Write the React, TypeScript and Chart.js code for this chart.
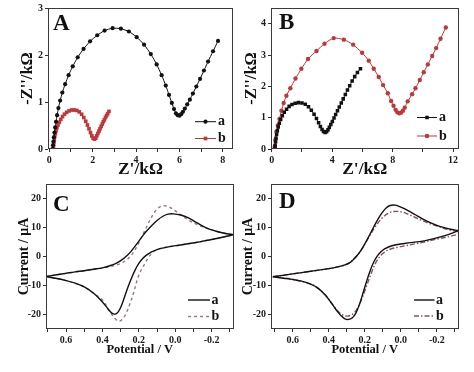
import React, { useEffect, useRef } from "react";
import { Chart, registerables } from "chart.js";

Chart.register(...registerables);

const SERIF = '"Liberation Serif", "Times New Roman", Times, serif';
const BLACK = "#111111";
const RED = "#c0373a";
const DASH_C = "#9a7683";
const DASH_D = "#8a4f5c";

// ---------------- Panel A : Nyquist (kOhm) ----------------
const A_a_re = [0.15, 0.17, 0.19, 0.21, 0.24, 0.27, 0.31, 0.36, 0.42, 0.5, 0.6, 0.73, 0.89, 1.08, 1.31, 1.58, 1.88, 2.21, 2.55, 2.92, 3.3, 3.67, 4.03, 4.37, 4.68, 4.95, 5.18, 5.37, 5.52, 5.65, 5.75, 5.84, 5.92, 6.0, 6.08, 6.16, 6.25, 6.36, 6.48, 6.62, 6.78, 6.95, 7.13, 7.32, 7.55, 7.78];
const A_a_im = [0.0, 0.08, 0.16, 0.25, 0.35, 0.46, 0.58, 0.72, 0.87, 1.03, 1.2, 1.38, 1.57, 1.76, 1.95, 2.13, 2.29, 2.42, 2.52, 2.57, 2.56, 2.5, 2.38, 2.22, 2.02, 1.8, 1.57, 1.35, 1.15, 0.98, 0.85, 0.76, 0.72, 0.71, 0.74, 0.79, 0.86, 0.95, 1.05, 1.18, 1.33, 1.49, 1.67, 1.86, 2.08, 2.3];
const A_b_re = [0.18, 0.19, 0.2, 0.21, 0.23, 0.25, 0.28, 0.31, 0.35, 0.4, 0.46, 0.53, 0.61, 0.7, 0.8, 0.91, 1.03, 1.15, 1.27, 1.38, 1.49, 1.59, 1.68, 1.76, 1.83, 1.9, 1.96, 2.02, 2.08, 2.14, 2.19, 2.24, 2.29, 2.34, 2.39, 2.44, 2.49, 2.54, 2.59, 2.64, 2.69, 2.75];
const A_b_im = [0.0, 0.05, 0.1, 0.15, 0.21, 0.27, 0.33, 0.39, 0.45, 0.51, 0.57, 0.63, 0.69, 0.74, 0.78, 0.81, 0.83, 0.83, 0.82, 0.79, 0.74, 0.67, 0.59, 0.51, 0.43, 0.35, 0.28, 0.23, 0.21, 0.23, 0.28, 0.33, 0.38, 0.43, 0.48, 0.53, 0.58, 0.62, 0.67, 0.71, 0.75, 0.8];
const A_xTicks = [0, 2, 4, 6, 8];
const A_xMinor = [1, 3, 5, 7];
const A_yTicks = [0, 1, 2, 3];

// ---------------- Panel B : Nyquist (kOhm) ----------------
const B_a_re = [0.2, 0.22, 0.25, 0.28, 0.32, 0.37, 0.43, 0.5, 0.59, 0.7, 0.83, 0.98, 1.15, 1.34, 1.55, 1.77, 2.0, 2.22, 2.43, 2.62, 2.8, 2.96, 3.1, 3.22, 3.33, 3.43, 3.53, 3.63, 3.72, 3.81, 3.91, 4.01, 4.12, 4.23, 4.35, 4.47, 4.6, 4.73, 4.87, 5.01, 5.16, 5.32, 5.49, 5.67, 5.87];
const B_a_im = [0.0, 0.1, 0.22, 0.34, 0.46, 0.58, 0.7, 0.82, 0.94, 1.06, 1.17, 1.27, 1.36, 1.42, 1.46, 1.48, 1.47, 1.43, 1.35, 1.24, 1.11, 0.97, 0.84, 0.72, 0.62, 0.56, 0.53, 0.55, 0.61, 0.69, 0.78, 0.88, 0.99, 1.1, 1.22, 1.34, 1.47, 1.6, 1.74, 1.88, 2.02, 2.17, 2.31, 2.44, 2.56];
const B_b_re = [0.18, 0.2, 0.24, 0.31, 0.4, 0.51, 0.64, 0.79, 0.97, 1.23, 1.57, 1.96, 2.4, 2.96, 3.49, 4.1, 4.77, 5.39, 5.98, 6.42, 6.75, 7.08, 7.37, 7.68, 7.9, 8.06, 8.2, 8.32, 8.44, 8.56, 8.68, 8.8, 9.0, 9.29, 9.51, 9.8, 10.06, 10.33, 10.62, 10.88, 11.17, 11.52];
const B_b_im = [0.0, 0.08, 0.29, 0.55, 0.75, 0.96, 1.22, 1.47, 1.7, 1.94, 2.25, 2.56, 2.87, 3.13, 3.36, 3.54, 3.49, 3.33, 3.07, 2.82, 2.56, 2.3, 2.04, 1.78, 1.53, 1.38, 1.25, 1.17, 1.14, 1.16, 1.22, 1.32, 1.52, 1.75, 1.94, 2.2, 2.45, 2.7, 2.97, 3.22, 3.52, 3.88];
const B_xTicks = [0, 4, 8, 12];
const B_xMinor = [2, 6, 10];
const B_yTicks = [0, 1, 2, 3, 4];

// ---------------- Panel C : CV (V vs uA) ----------------
const C_a_upE = [0.71, 0.65, 0.6, 0.55, 0.5, 0.45, 0.4, 0.36, 0.32, 0.29, 0.26, 0.24, 0.22, 0.2, 0.18, 0.16, 0.13, 0.1, 0.07, 0.04, 0.01, -0.03, -0.07, -0.12, -0.17, -0.22, -0.27, -0.32];
const C_a_upI = [-6.9, -6.3, -5.8, -5.3, -4.9, -4.4, -3.9, -3.2, -2.2, -1.0, 0.6, 2.0, 3.6, 5.3, 7.0, 8.6, 10.6, 12.4, 13.8, 14.6, 14.7, 14.3, 13.4, 11.6, 9.9, 8.8, 8.0, 7.5];
const C_a_loE = [-0.32, -0.27, -0.22, -0.17, -0.12, -0.07, -0.02, 0.03, 0.07, 0.1, 0.13, 0.16, 0.18, 0.2, 0.22, 0.24, 0.26, 0.28, 0.3, 0.32, 0.34, 0.36, 0.38, 0.41, 0.45, 0.5, 0.55, 0.6, 0.65, 0.71];
const C_a_loI = [7.5, 6.8, 6.1, 5.5, 4.9, 4.4, 3.9, 3.4, 2.9, 2.4, 1.6, 0.4, -0.8, -2.4, -4.6, -7.4, -10.6, -14.2, -17.6, -19.6, -19.8, -18.8, -17.2, -15.0, -12.6, -10.5, -9.2, -8.3, -7.6, -6.9];
const C_b_upE = [0.71, 0.6, 0.5, 0.4, 0.34, 0.3, 0.27, 0.25, 0.23, 0.21, 0.19, 0.17, 0.15, 0.13, 0.11, 0.09, 0.07, 0.05, 0.02, -0.01, -0.04, -0.08, -0.12, -0.17, -0.22, -0.27, -0.32];
const C_b_upI = [-6.9, -5.8, -4.9, -4.0, -3.2, -2.4, -1.3, -0.2, 1.4, 3.5, 6.0, 8.6, 11.2, 13.6, 15.6, 16.9, 17.5, 17.4, 16.6, 15.3, 13.9, 12.3, 11.0, 9.8, 8.8, 8.0, 7.5];
const C_b_loE = [-0.32, -0.22, -0.12, -0.02, 0.04, 0.08, 0.11, 0.13, 0.15, 0.17, 0.19, 0.21, 0.23, 0.25, 0.27, 0.29, 0.31, 0.33, 0.35, 0.37, 0.4, 0.45, 0.5, 0.6, 0.71];
const C_b_loI = [7.5, 6.1, 4.9, 3.9, 3.3, 2.8, 2.0, 1.0, -0.6, -2.8, -5.0, -8.3, -12.8, -16.5, -19.6, -21.6, -22.3, -21.5, -19.8, -17.8, -15.0, -12.6, -10.5, -8.3, -6.9];

// ---------------- Panel D : CV (V vs uA) ----------------
const D_a_upE = [0.71, 0.6, 0.5, 0.4, 0.35, 0.31, 0.28, 0.26, 0.24, 0.22, 0.2, 0.18, 0.16, 0.14, 0.12, 0.1, 0.08, 0.06, 0.03, 0.0, -0.04, -0.08, -0.12, -0.17, -0.22, -0.27, -0.32];
const D_a_upI = [-7.0, -6.0, -5.1, -4.2, -3.6, -2.9, -2.0, -0.9, 0.5, 2.2, 4.3, 6.6, 9.0, 11.4, 13.6, 15.4, 16.8, 17.6, 17.7, 17.0, 15.8, 14.4, 13.0, 11.5, 10.3, 9.5, 8.9];
const D_a_loE = [-0.32, -0.24, -0.13, -0.02, 0.05, 0.09, 0.11, 0.13, 0.15, 0.17, 0.19, 0.21, 0.23, 0.25, 0.27, 0.29, 0.31, 0.33, 0.35, 0.37, 0.39, 0.42, 0.46, 0.5, 0.55, 0.6, 0.65, 0.71];
const D_a_loI = [8.9, 7.1, 5.4, 4.5, 3.7, 2.6, 1.6, 0.2, -1.9, -4.9, -8.6, -12.7, -16.6, -19.6, -21.2, -21.7, -21.5, -20.5, -19.1, -17.4, -15.6, -13.2, -10.9, -9.5, -8.5, -7.9, -7.5, -7.0];
const D_b_upE = [0.71, 0.6, 0.5, 0.4, 0.35, 0.31, 0.28, 0.26, 0.24, 0.22, 0.2, 0.18, 0.16, 0.14, 0.12, 0.1, 0.08, 0.06, 0.04, 0.01, -0.02, -0.06, -0.1, -0.15, -0.2, -0.26, -0.32];
const D_b_upI = [-7.0, -6.0, -5.1, -4.2, -3.6, -2.9, -1.9, -0.7, 0.5, 2.2, 4.3, 6.4, 8.5, 10.4, 12.1, 13.5, 14.5, 15.2, 15.5, 15.5, 15.1, 14.0, 12.9, 11.6, 10.5, 9.3, 8.4];
const D_b_loE = [-0.32, -0.2, -0.09, 0.0, 0.06, 0.09, 0.11, 0.13, 0.15, 0.17, 0.19, 0.21, 0.23, 0.25, 0.27, 0.29, 0.31, 0.33, 0.35, 0.37, 0.39, 0.42, 0.46, 0.5, 0.6, 0.71];
const D_b_loI = [7.7, 6.0, 4.5, 3.4, 2.5, 1.5, 0.4, -1.2, -3.6, -6.8, -10.2, -13.6, -16.6, -18.8, -20.0, -20.5, -20.5, -19.9, -18.8, -17.2, -15.6, -13.2, -10.9, -9.5, -7.9, -7.0];

const CV_xTicks = [0.6, 0.4, 0.2, 0.0, -0.2];
const CV_xMinor = [0.7, 0.5, 0.3, 0.1, -0.1, -0.3];
const CV_yTicks = [-20, -10, 0, 10, 20];

const pts = (xs: number[], ys: number[]) => xs.map((x, i) => ({ x, y: ys[i] }));
const loop = (e1: number[], i1: number[], e2: number[], i2: number[]) => pts([...e1, ...e2], [...i1, ...i2]);

type Area = { l: number; t: number; r: number; b: number };
type AxisDef = {
  min: number; max: number; reverse?: boolean; major: number[]; minor: number[];
  fmt: (v: number) => string; title: string; size: number; pad: number;
};
type PanelDef = {
  left: number; top: number; width: number; height: number; area: Area;
  x: AxisDef; y: AxisDef; datasets: any[];
  letter: { text: string; x: number; y: number };
  legend: { x1: number; x2: number; tx: number; rows: number[] };
};

const decor = {
  id: "decor",
  afterDraw(chart: any, _args: any, o: any) {
    const ctx = chart.ctx as CanvasRenderingContext2D;
    const ca = chart.chartArea;
    ctx.save();
    ctx.strokeStyle = "#3a3a3a";
    ctx.lineWidth = 1;
    ctx.setLineDash([]);
    ctx.strokeRect(Math.round(ca.left) + 0.5, Math.round(ca.top) + 0.5, Math.round(ca.right - ca.left) - 1, Math.round(ca.bottom - ca.top) - 1);
    // panel letter
    ctx.fillStyle = BLACK;
    ctx.font = `bold 23px ${SERIF}`;
    ctx.textAlign = "left";
    ctx.textBaseline = "alphabetic";
    ctx.fillText(o.letter.text, o.letter.x - o.ox, o.letter.y - o.oy);
    // legend
    const L = o.legend;
    chart.data.datasets.forEach((ds: any, i: number) => {
      const y = L.rows[i] - o.oy;
      const x1 = L.x1 - o.ox;
      const x2 = L.x2 - o.ox;
      ctx.beginPath();
      ctx.setLineDash(ds.borderDash || []);
      ctx.strokeStyle = ds.borderColor;
      ctx.lineWidth = ds.borderWidth;
      ctx.moveTo(x1, y);
      ctx.lineTo(x2, y);
      ctx.stroke();
      ctx.setLineDash([]);
      if (ds.pointRadius > 0) {
        const cx = (x1 + x2) / 2;
        ctx.fillStyle = ds.backgroundColor;
        ctx.beginPath();
        if (ds.pointStyle === "rect") {
          const s = ds.pointRadius * Math.SQRT1_2;
          ctx.rect(cx - s, y - s, 2 * s, 2 * s);
        } else {
          ctx.arc(cx, y, ds.pointRadius, 0, Math.PI * 2);
        }
        ctx.fill();
      }
      ctx.fillStyle = BLACK;
      ctx.font = `bold 14px ${SERIF}`;
      ctx.textBaseline = "middle";
      ctx.textAlign = "left";
      ctx.fillText(ds.label, L.tx - o.ox, y);
    });
    ctx.restore();
  },
};

function axisOpts(a: AxisDef, horizontal: boolean, fitSize: number) {
  const all = [...a.major, ...a.minor].sort((p, q) => p - q);
  return {
    type: "linear",
    min: a.min,
    max: a.max,
    reverse: !!a.reverse,
    afterBuildTicks: (s: any) => {
      s.ticks = all.map((v) => ({ value: v }));
    },
    afterFit: (s: any) => {
      if (horizontal) s.height = fitSize;
      else s.width = fitSize;
    },
    ticks: {
      autoSkip: false,
      maxRotation: 0,
      minRotation: 0,
      padding: 2,
      color: "#1a1a1a",
      font: { family: SERIF, size: 10, weight: "bold" },
      callback: (v: number) => (a.major.some((m) => Math.abs(m - v) < 1e-9) ? a.fmt(v) : ""),
    },
    grid: { display: true, drawOnChartArea: false, drawTicks: true, tickLength: 3, tickWidth: 1, color: "#333" },
    border: { display: false },
    title: {
      display: true,
      text: a.title,
      color: BLACK,
      font: { family: SERIF, size: a.size, weight: "bold" },
      padding: horizontal ? { top: 0, bottom: a.pad } : { top: a.pad, bottom: 0 },
    },
  };
}

function buildConfig(p: PanelDef): any {
  return {
    type: "scatter",
    data: { datasets: p.datasets },
    options: {
      animation: false,
      responsive: false,
      maintainAspectRatio: false,
      devicePixelRatio: 1,
      events: [],
      layout: {
        padding: { left: 0, bottom: 0, top: p.area.t - p.top, right: p.left + p.width - p.area.r },
      },
      plugins: {
        legend: { display: false },
        tooltip: { enabled: false },
        decor: { letter: p.letter, legend: p.legend, ox: p.left, oy: p.top },
      },
      scales: {
        x: axisOpts(p.x, true, p.top + p.height - p.area.b),
        y: axisOpts(p.y, false, p.area.l - p.left),
      },
    },
    plugins: [decor],
  };
}

const nyq = (label: string, data: any[], color: string, style: string, r: number) => ({
  label, data, showLine: true, borderColor: color, backgroundColor: color, borderWidth: 1,
  pointStyle: style, pointRadius: r, pointBorderWidth: 0, pointBackgroundColor: color, tension: 0.2,
});
const cv = (label: string, data: any[], color: string, dash: number[]) => ({
  label, data, showLine: true, borderColor: color, backgroundColor: color, borderWidth: 1.4,
  borderDash: dash, pointRadius: 0, tension: 0.35,
});

const fmt0 = (v: number) => String(Math.round(v));
const fmt1 = (v: number) => (Math.abs(v) < 1e-9 ? "0.0" : v.toFixed(1));

const PANELS: PanelDef[] = [
  {
    left: 0, top: 0, width: 237, height: 180, area: { l: 48, t: 5, r: 233.5, b: 149 },
    x: { min: -0.06, max: 8.47, major: A_xTicks, minor: A_xMinor, fmt: fmt0, title: "Z'/kΩ", size: 17.5, pad: 0 },
    y: { min: 0, max: 3, major: A_yTicks, minor: [], fmt: fmt0, title: "-Z''/kΩ", size: 16.5, pad: 18 },
    datasets: [
      nyq("a", pts(A_a_re, A_a_im), BLACK, "circle", 2.1),
      nyq("b", pts(A_b_re, A_b_im), RED, "rect", 2.6),
    ],
    letter: { text: "A", x: 53, y: 30 },
    legend: { x1: 195, x2: 216, tx: 218, rows: [121.7, 138.5] },
  },
  {
    left: 237, top: 0, width: 237, height: 180, area: { l: 271, t: 4, r: 458.5, b: 149 },
    x: { min: -0.05, max: 12.36, major: B_xTicks, minor: B_xMinor, fmt: fmt0, title: "Z'/kΩ", size: 17.5, pad: 0 },
    y: { min: 0, max: 4.5, major: B_yTicks, minor: [], fmt: fmt0, title: "-Z''/kΩ", size: 16.5, pad: 5 },
    datasets: [
      nyq("a", pts(B_a_re, B_a_im), BLACK, "rect", 2.5),
      nyq("b", pts(B_b_re, B_b_im), RED, "circle", 2.2),
    ],
    letter: { text: "B", x: 279, y: 28.5 },
    legend: { x1: 417, x2: 437, tx: 439, rows: [117.5, 136] },
  },
  {
    left: 0, top: 176, width: 237, height: 196, area: { l: 46, t: 184, r: 233.5, b: 329 },
    x: { min: -0.32, max: 0.71, reverse: true, major: CV_xTicks, minor: CV_xMinor, fmt: fmt1, title: "Potential / V", size: 12.5, pad: 15 },
    y: { min: -25, max: 25, major: CV_yTicks, minor: [], fmt: fmt0, title: "Current / μA", size: 14, pad: 16 },
    datasets: [
      cv("a", loop(C_a_upE, C_a_upI, C_a_loE, C_a_loI), BLACK, []),
      cv("b", loop(C_b_upE, C_b_upI, C_b_loE, C_b_loI), DASH_C, [3, 3]),
    ],
    letter: { text: "C", x: 53, y: 211 },
    legend: { x1: 188, x2: 210, tx: 211.5, rows: [300, 316.5] },
  },
  {
    left: 237, top: 176, width: 237, height: 196, area: { l: 271, t: 184, r: 458.5, b: 329 },
    x: { min: -0.32, max: 0.72, reverse: true, major: CV_xTicks, minor: CV_xMinor, fmt: fmt1, title: "Potential / V", size: 12.5, pad: 15 },
    y: { min: -25, max: 25, major: CV_yTicks, minor: [], fmt: fmt0, title: "Current / μA", size: 14, pad: 3 },
    datasets: [
      cv("a", loop(D_a_upE, D_a_upI, D_a_loE, D_a_loI), BLACK, []),
      cv("b", loop(D_b_upE, D_b_upI, D_b_loE, D_b_loI), DASH_D, [5, 2, 1.5, 2]),
    ],
    letter: { text: "D", x: 279, y: 207.5 },
    legend: { x1: 414, x2: 434.5, tx: 436, rows: [300, 316] },
  },
];

function Panel({ def }: { def: PanelDef }) {
  const ref = useRef<HTMLCanvasElement>(null);
  useEffect(() => {
    if (!ref.current) return;
    const chart = new Chart(ref.current, buildConfig(def));
    return () => chart.destroy();
  }, [def]);
  return (
    <canvas
      ref={ref}
      width={def.width}
      height={def.height}
      style={{ position: "absolute", left: def.left, top: def.top, width: def.width, height: def.height }}
    />
  );
}

export default function App() {
  return (
    <div style={{ position: "fixed", left: 0, top: 0, width: 474, height: 372, background: "#ffffff", overflow: "hidden" }}>
      {PANELS.map((p, i) => (
        <Panel key={i} def={p} />
      ))}
    </div>
  );
}
